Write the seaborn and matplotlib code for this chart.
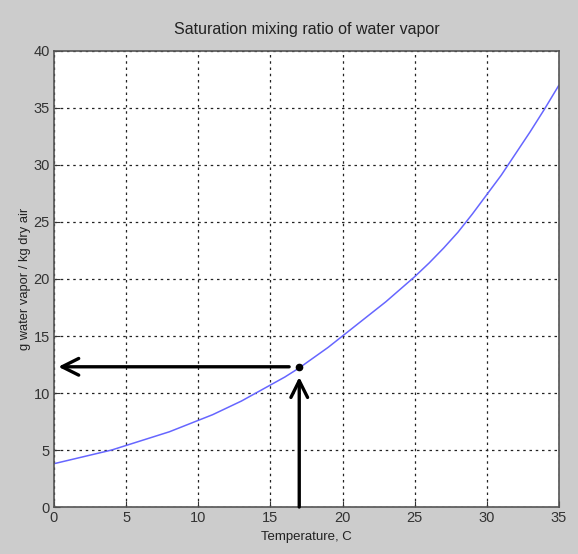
import numpy as np
import pandas as pd
import matplotlib
matplotlib.use("Agg")
import matplotlib.pyplot as plt
import seaborn as sns

# values, one per degree
temperature = list(range(0, 36))
mixing_ratio = [3.8, 4.1, 4.4, 4.7, 5.0, 5.4, 5.8, 6.2, 6.6, 7.1,
                7.6, 8.1, 8.7, 9.3, 10.0, 10.7, 11.4, 12.2, 13.1, 14.0,
                15.0, 16.0, 17.0, 18.0, 19.1, 20.2, 21.4, 22.7, 24.1, 25.7,
                27.4, 29.1, 31.0, 32.9, 34.9, 37.0]

point_t = 17
point_w = 12.3
arrow_left_end = 0.3
arrow_up_end = 11.4

df = pd.DataFrame({"T": temperature, "w": mixing_ratio})

sns.set_style("ticks")
plt.rcParams['font.family'] = ['Liberation Sans', 'DejaVu Sans']

fig = plt.figure(figsize=(5.78, 5.54), dpi=100, facecolor="#cccccc")
ax = fig.add_axes([0.0934, 0.0848, 0.8736, 0.8232])
ax.set_facecolor("white")

sns.lineplot(data=df, x="T", y="w", ax=ax, color="#6666ff", linewidth=1.1)

ax.plot([point_t], [point_w], "o", color="black", markersize=4.5, zorder=5)

# horizontal arrow toward the y axis
ax.annotate("", xy=(arrow_left_end, point_w), xytext=(point_t - 0.7, point_w),
            arrowprops=dict(arrowstyle="->,head_length=0.6,head_width=0.3", color="black", lw=2.4,
                            mutation_scale=20, shrinkA=0, shrinkB=0))
# vertical arrow from the x axis up to the point
ax.annotate("", xy=(point_t, arrow_up_end), xytext=(point_t, 0),
            arrowprops=dict(arrowstyle="->,head_length=0.6,head_width=0.3", color="black", lw=2.4,
                            mutation_scale=20, shrinkA=0, shrinkB=0))

ax.set_xlim(0, 35)
ax.set_ylim(0, 40)
ax.set_xticks(range(0, 36, 5))
ax.set_yticks(range(0, 41, 5))
ax.grid(True, linestyle=(0, (2, 3)), color="#222222", linewidth=0.9)
ax.tick_params(direction="in", length=4, labelsize=10.5, colors="#333333", pad=3)
for s in ax.spines.values():
    s.set_color("#555555")
    s.set_linewidth(1.2)

ax.set_title("Saturation mixing ratio of water vapor", fontsize=11.5, color="#222222", pad=12)
ax.set_xlabel("Temperature, C", fontsize=9.5, color="#222222", labelpad=4)
ax.set_ylabel("g water vapor / kg dry air", fontsize=9.3, color="#222222", labelpad=2)

fig.savefig("out.png", dpi=100, facecolor=fig.get_facecolor())
